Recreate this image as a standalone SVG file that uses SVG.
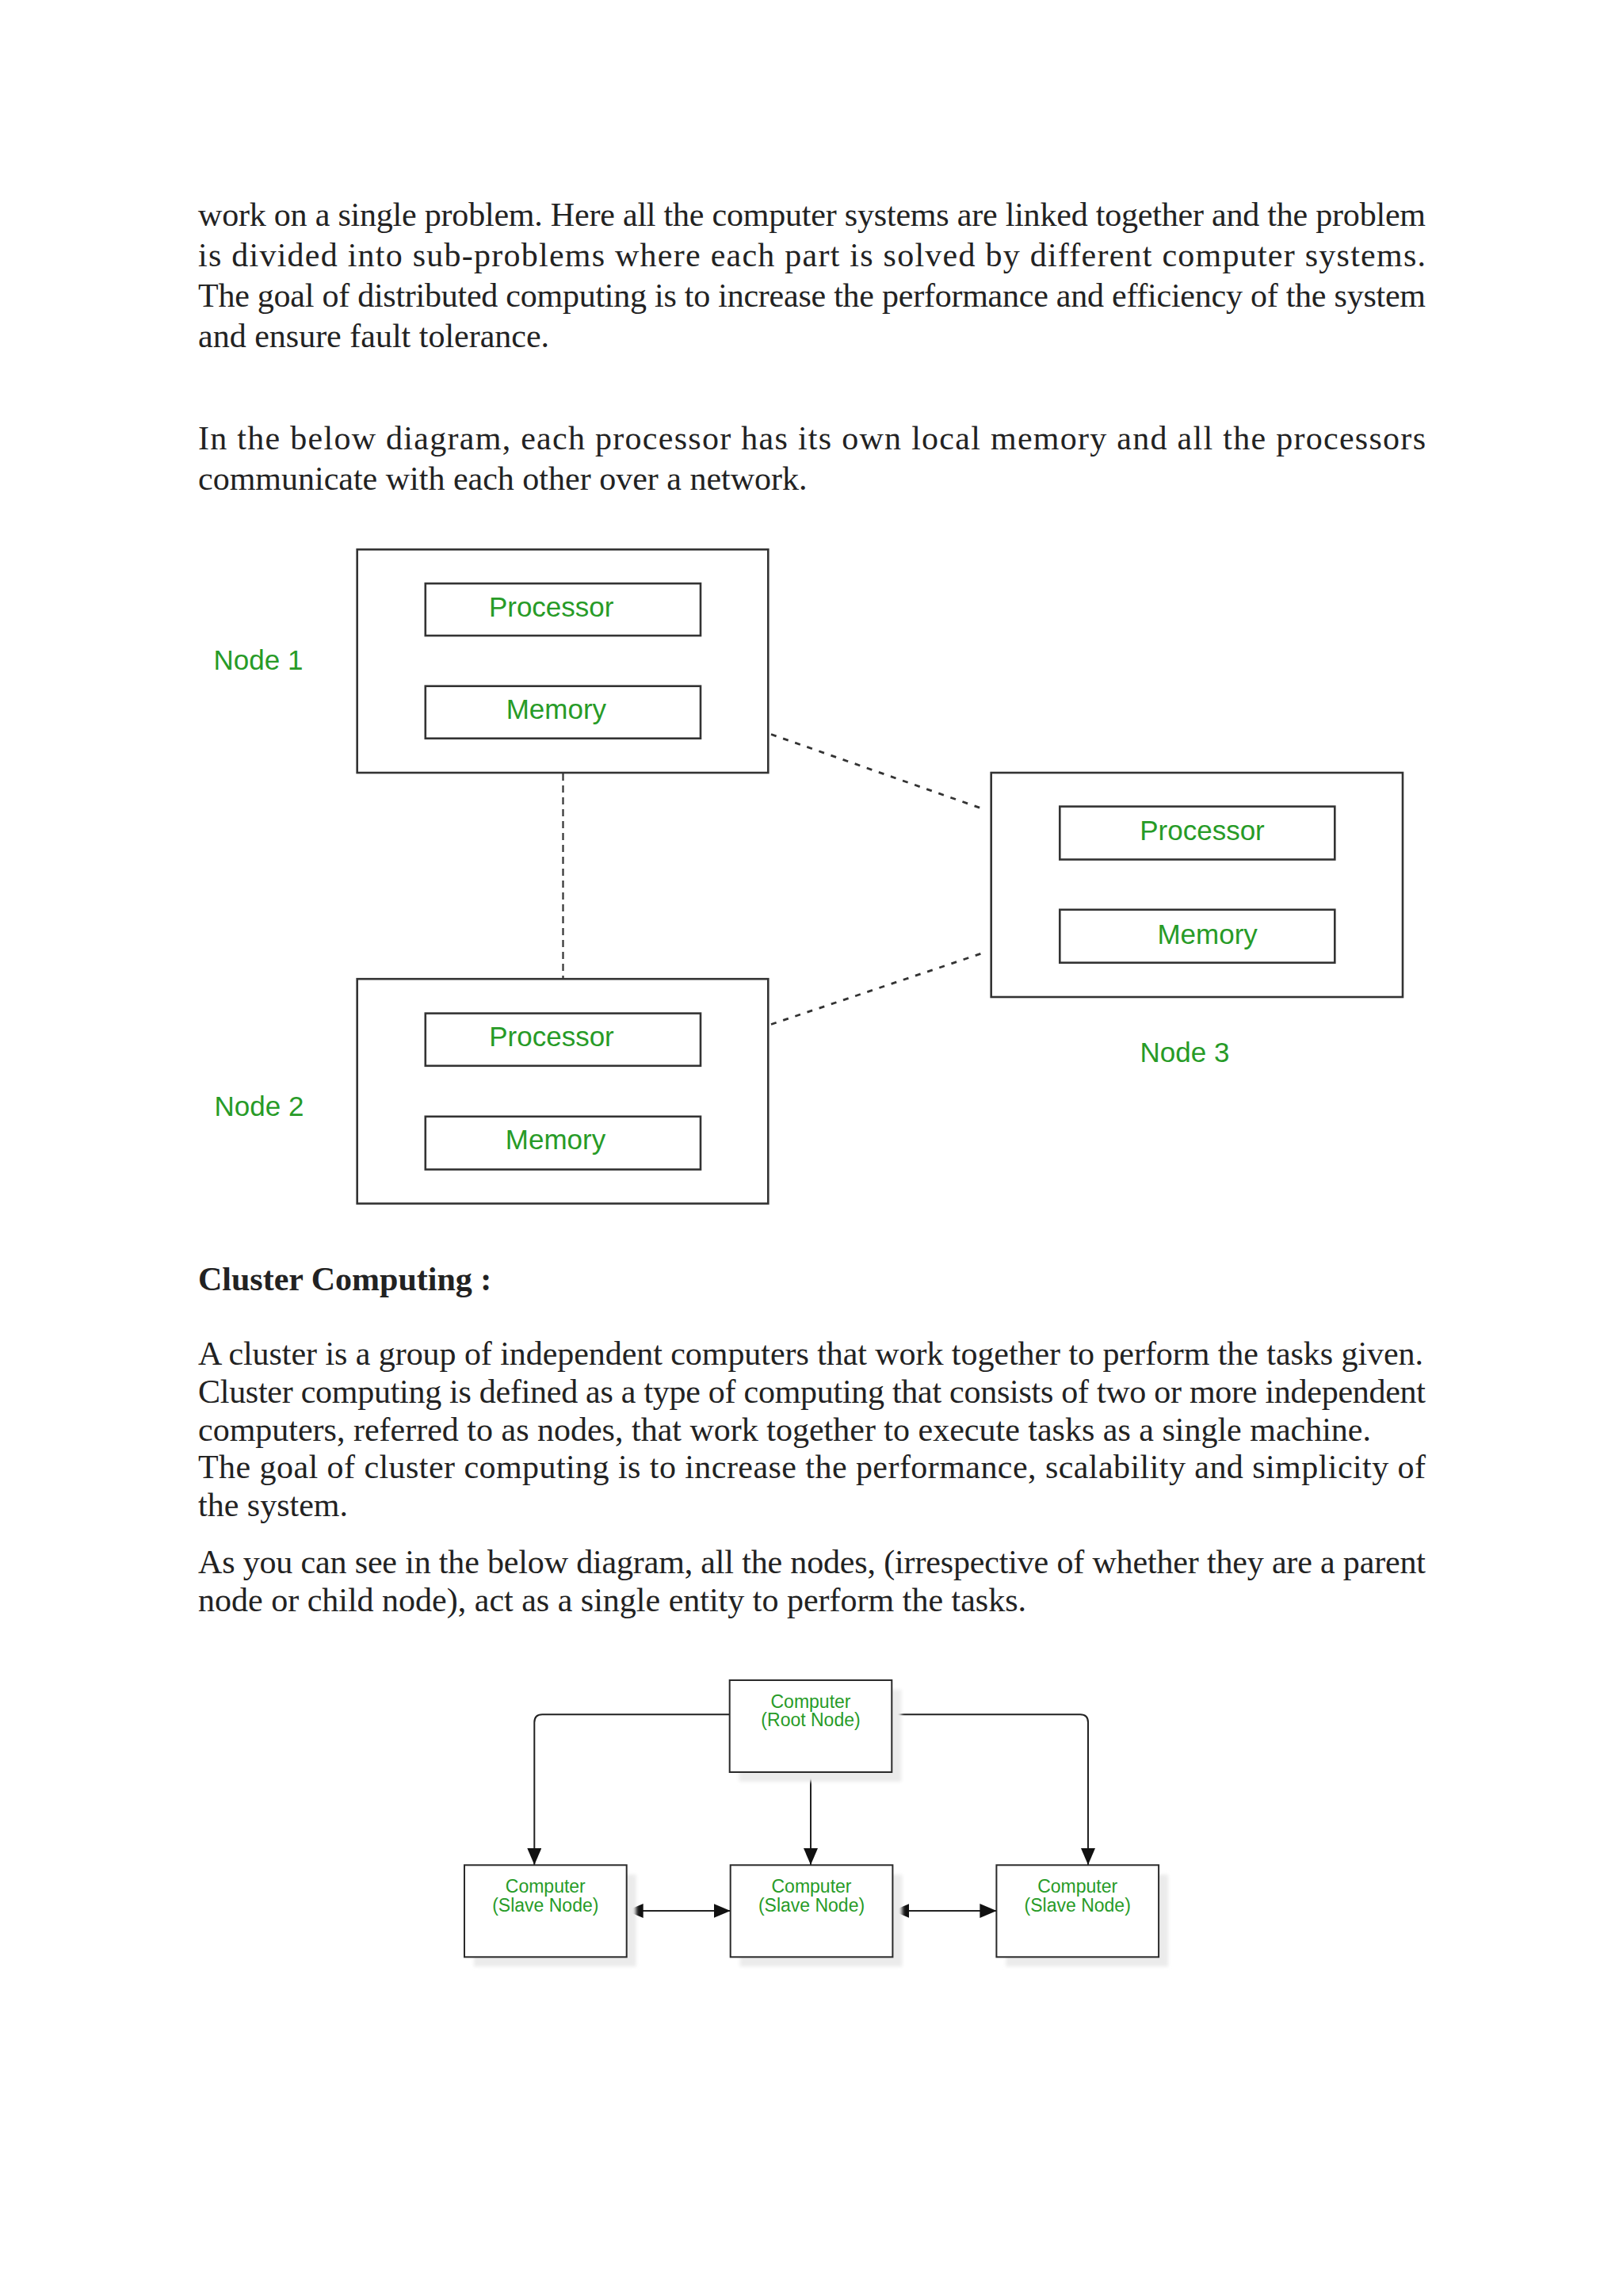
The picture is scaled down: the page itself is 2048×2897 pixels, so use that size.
<svg xmlns="http://www.w3.org/2000/svg" width="2048" height="2897" viewBox="0 0 2048 2897">
<style>
.body{font-family:"Liberation Serif","Times New Roman",serif;font-size:42px;fill:#222}
.head{font-family:"Liberation Serif","Times New Roman",serif;font-size:42px;font-weight:bold;fill:#222}
.lbl{font-family:"Liberation Sans",Arial,sans-serif;font-size:35px;fill:#279b27;text-anchor:middle}
.clbl{font-family:"Liberation Sans",Arial,sans-serif;font-size:23px;fill:#279b27;text-anchor:middle}
.outer{fill:#fff;stroke:#333;stroke-width:2.6}
.inner{fill:#fff;stroke:#333;stroke-width:2.6}
.cbox{fill:#fff;stroke:#2a2a2a;stroke-width:2}
.shadow{fill:#ebebeb;filter:url(#blur)}
.dash{fill:none;stroke:#333;stroke-width:2.8;stroke-dasharray:7 9}
.vdash{fill:none;stroke:#333;stroke-width:2.2;stroke-dasharray:9 6}
.conn{fill:none;stroke:#222;stroke-width:2}
</style>
<defs>
<filter id="blur" x="-10%" y="-10%" width="120%" height="120%"><feGaussianBlur stdDeviation="2"/></filter>
<marker id="arr" markerUnits="userSpaceOnUse" markerWidth="21" markerHeight="18" refX="21" refY="9" orient="auto-start-reverse" viewBox="0 0 21 18"><path d="M0,0 L21,9 L0,18 z" fill="#111"/></marker>
</defs>
<rect width="2048" height="2897" fill="#fff"/>

<g id="text">
<text class="body" x="250" y="285" textLength="1549" lengthAdjust="spacing">work on a single problem. Here all the computer systems are linked together and the problem</text>
<text class="body" x="250" y="336" textLength="1549" lengthAdjust="spacing">is divided into sub-problems where each part is solved by different computer systems.</text>
<text class="body" x="250" y="387" textLength="1549" lengthAdjust="spacing">The goal of distributed computing is to increase the performance and efficiency of the system</text>
<text class="body" x="250" y="438">and ensure fault tolerance.</text>
<text class="body" x="250" y="567" textLength="1549" lengthAdjust="spacing">In the below diagram, each processor has its own local memory and all the processors</text>
<text class="body" x="250" y="618">communicate with each other over a network.</text>
<text class="head" x="250" y="1628">Cluster Computing :</text>
<text class="body" x="250" y="1722" textLength="1546" lengthAdjust="spacing">A cluster is a group of independent computers that work together to perform the tasks given.</text>
<text class="body" x="250" y="1770" textLength="1549" lengthAdjust="spacing">Cluster computing is defined as a type of computing that consists of two or more independent</text>
<text class="body" x="250" y="1818">computers, referred to as nodes, that work together to execute tasks as a single machine.</text>
<text class="body" x="250" y="1865" textLength="1549" lengthAdjust="spacing">The goal of cluster computing is to increase the performance, scalability and simplicity of</text>
<text class="body" x="250" y="1913">the system.</text>
<text class="body" x="250" y="1985" textLength="1549" lengthAdjust="spacing">As you can see in the below diagram, all the nodes, (irrespective of whether they are a parent</text>
<text class="body" x="250" y="2033">node or child node), act as a single entity to perform the tasks.</text>
</g>

<g id="connectors">
<line class="vdash" x1="710.5" y1="976" x2="710.5" y2="1235"/>
<line class="dash" x1="973" y1="926.5" x2="1240" y2="1020.5"/>
<line class="dash" x1="973" y1="1292.5" x2="1243" y2="1201.5"/>
<path class="conn" d="M920.7,2163.3 H684.3 Q674.3,2163.3 674.3,2173.3 V2353" marker-end="url(#arr)"/>
<path class="conn" d="M1023,2236 V2353" marker-end="url(#arr)"/>
<path class="conn" d="M1125.3,2163.3 H1363 Q1373,2163.3 1373,2173.3 V2353" marker-end="url(#arr)"/>
<line class="conn" x1="790.7" y1="2411" x2="921.7" y2="2411" marker-start="url(#arr)" marker-end="url(#arr)"/>
<line class="conn" x1="1126.4" y1="2411" x2="1257.4" y2="2411" marker-start="url(#arr)" marker-end="url(#arr)"/>
</g>

<g id="node1">
<rect class="outer" x="450.7" y="693.3" width="518.6" height="281.7"/>
<rect class="inner" x="536.8" y="736.2" width="347.2" height="65.8"/>
<text class="lbl" x="695.7" y="777.5">Processor</text>
<rect class="inner" x="536.8" y="865.7" width="347.2" height="66"/>
<text class="lbl" x="701.9" y="906.8">Memory</text>
<text class="lbl" x="326" y="845">Node 1</text>
</g>

<g id="node2">
<rect class="outer" x="450.7" y="1235.2" width="518.6" height="283.4"/>
<rect class="inner" x="536.8" y="1278.6" width="347.2" height="66.2"/>
<text class="lbl" x="696" y="1320">Processor</text>
<rect class="inner" x="536.8" y="1408.8" width="347.2" height="66.8"/>
<text class="lbl" x="701" y="1450">Memory</text>
<text class="lbl" x="327" y="1408">Node 2</text>
</g>

<g id="node3">
<rect class="outer" x="1250.7" y="975" width="519.3" height="283"/>
<rect class="inner" x="1337.3" y="1017.6" width="347" height="66.9"/>
<text class="lbl" x="1517" y="1059.6">Processor</text>
<rect class="inner" x="1337.3" y="1147.8" width="347" height="66.9"/>
<text class="lbl" x="1523.6" y="1190.5">Memory</text>
<text class="lbl" x="1495" y="1340">Node 3</text>
</g>

<g id="root">
<rect class="shadow" x="932.7" y="2132" width="204.6" height="116"/>
<rect class="cbox" x="920.7" y="2120" width="204.6" height="116"/>
<text class="clbl" x="1023" y="2155">Computer</text>
<text class="clbl" x="1023" y="2178">(Root Node)</text>
</g>

<g id="slave1">
<rect class="shadow" x="598" y="2365.3" width="204.7" height="116"/>
<rect class="cbox" x="586" y="2353.3" width="204.7" height="116"/>
<text class="clbl" x="688.3" y="2388.3">Computer</text>
<text class="clbl" x="688.3" y="2411.6">(Slave Node)</text>
</g>

<g id="slave2">
<rect class="shadow" x="933.7" y="2365.3" width="204.7" height="116"/>
<rect class="cbox" x="921.7" y="2353.3" width="204.7" height="116"/>
<text class="clbl" x="1024" y="2388.3">Computer</text>
<text class="clbl" x="1024" y="2411.6">(Slave Node)</text>
</g>

<g id="slave3">
<rect class="shadow" x="1269.4" y="2365.3" width="204.7" height="116"/>
<rect class="cbox" x="1257.4" y="2353.3" width="204.7" height="116"/>
<text class="clbl" x="1359.7" y="2388.3">Computer</text>
<text class="clbl" x="1359.7" y="2411.6">(Slave Node)</text>
</g>
</svg>
